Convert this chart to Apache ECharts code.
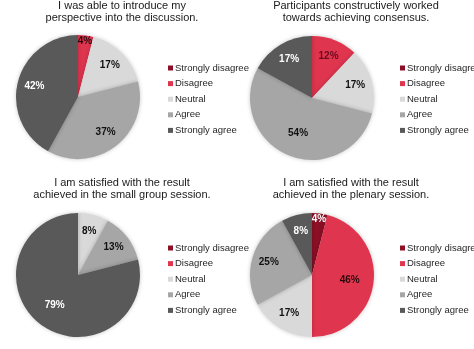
<!DOCTYPE html>
<html>
<head>
<meta charset="utf-8">
<script src="https://cdn.jsdelivr.net/npm/echarts@6/dist/echarts.min.js"></script>
<style>
html,body{margin:0;padding:0;background:#fff;}
#c{width:474px;height:349px;}
</style>
</head>
<body>
<div id="c"></div>
<script>
const categories = ['Strongly disagree', 'Disagree', 'Neutral', 'Agree', 'Strongly agree'];
const titles = [
  'I was able to introduce my\nperspective into the discussion.',
  'Participants constructively worked\ntowards achieving consensus.',
  'I am satisfied with the result\nachieved in the small group session.',
  'I am satisfied with the result\nachieved in the plenary session.'
];
const q1Values = [0, 4, 17, 37, 42];
const q2Values = [0, 12, 17, 54, 17];
const q3Values = [0, 0, 8, 13, 79];
const q4Values = [4, 46, 17, 25, 8];
const allValues = [q1Values, q2Values, q3Values, q4Values];

const colors = ['#8c0f26', '#e0354f', '#d9d9d9', '#a6a6a6', '#595959'];
const labelColors = ['#ffffff', '#2a0a10', '#111111', '#111111', '#ffffff'];
const labelColorsAlt = ['#ffffff', '#6e0a1c', '#111111', '#111111', '#ffffff'];

const panels = [
  {cx: 78, cy: 97, titleX: 122, titleY: 0, legX: 168, legY: 62},
  {cx: 312, cy: 98, titleX: 356, titleY: 0, legX: 400, legY: 62},
  {cx: 78, cy: 275, titleX: 122, titleY: 177, legX: 168, legY: 242},
  {cx: 312, cy: 275, titleX: 351, titleY: 177, legX: 400, legY: 242}
];
const R = 62;
// label placement bands (best-fit style): small slices near rim, big slices nearer centre
const labelBands = [
  {min: 0.5, max: 6, inner: 44},
  {min: 6, max: 45, inner: 22},
  {min: 45, max: 101, inner: 8}
];

const chart = echarts.init(document.getElementById('c'), null, {renderer: 'canvas'});
const title = [], legend = [], series = [];
panels.forEach((p, i) => {
  title.push({
    text: titles[i], left: p.titleX, top: p.titleY, textAlign: 'center', padding: 0,
    textStyle: {fontFamily: 'Liberation Sans, Arial, sans-serif', fontSize: 11, fontWeight: 'normal', color: '#1a1a1a', lineHeight: 12}
  });
  legend.push({
    data: categories, orient: 'vertical', left: p.legX, top: p.legY, padding: 0,
    itemWidth: 5, itemHeight: 5, itemGap: 3.6, icon: 'rect', selectedMode: false,
    textStyle: {fontFamily: 'Liberation Sans, Arial, sans-serif', fontSize: 9.5, color: '#262626', lineHeight: 12, padding: [0, 0, 0, -3]}
  });
  const vals = allValues[i];
  series.push({
    type: 'pie', center: [p.cx, p.cy], radius: [0, R], startAngle: 90, clockwise: true,
    silent: true, animation: false, label: {show: false}, labelLine: {show: false},
    itemStyle: {borderWidth: 0, shadowBlur: 4, shadowColor: 'rgba(0,0,0,0.22)'},
    data: categories.map((c, k) => ({name: c, value: vals[k], itemStyle: {color: colors[k]}}))
  });
  labelBands.forEach((b) => {
    series.push({
      type: 'pie', center: [p.cx, p.cy], radius: [b.inner, R], startAngle: 90, clockwise: true,
      silent: true, animation: false, legendHoverLink: false,
      itemStyle: {color: 'rgba(0,0,0,0)'},
      label: {show: true, position: 'inside',
        fontFamily: 'Liberation Sans, Arial, sans-serif', fontSize: 10, fontWeight: 'bold',
        formatter: (d) => (d.value >= b.min && d.value < b.max) ? d.value + '%' : ''},
      labelLine: {show: false},
      data: categories.map((c, k) => ({name: c, value: vals[k],
        itemStyle: {color: 'rgba(0,0,0,0)'},
        label: {color: (i === 1 ? labelColorsAlt : labelColors)[k]}}))
    });
  });
});

chart.setOption({
  backgroundColor: '#fff', animation: false,
  color: colors, title: title, legend: legend, series: series
});
</script>
</body>
</html>
